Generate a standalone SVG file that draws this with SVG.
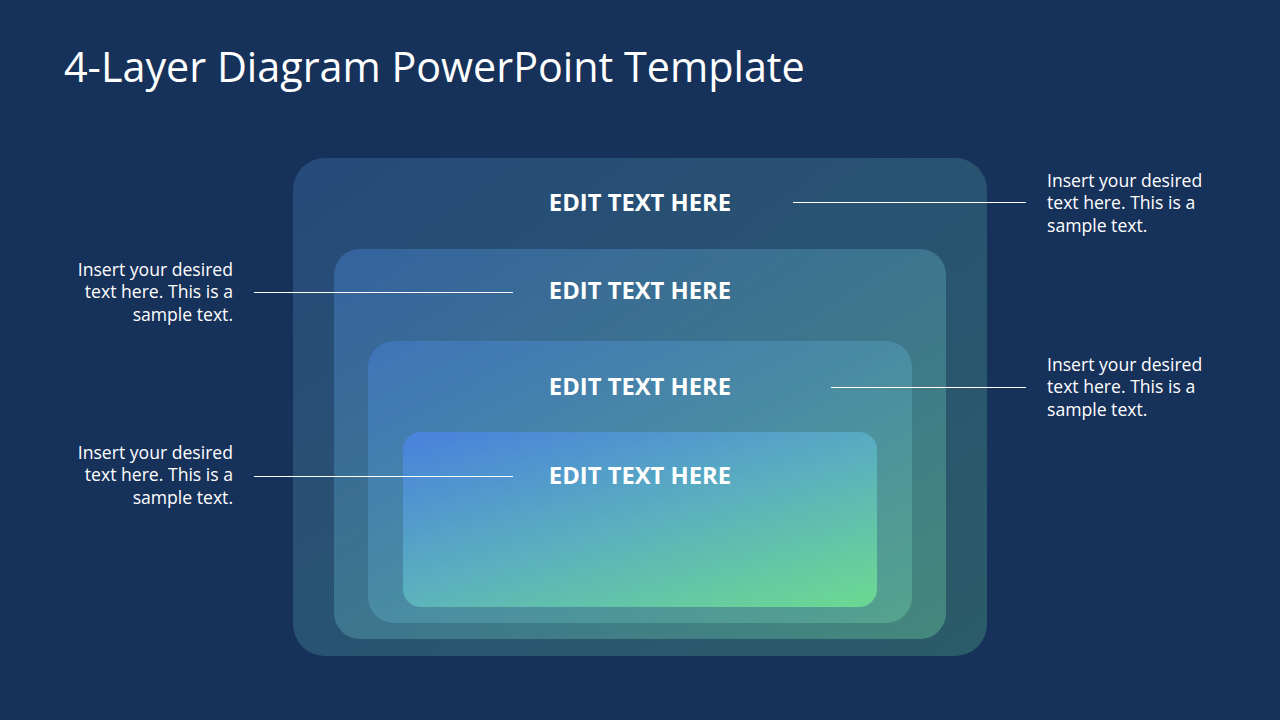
<svg xmlns="http://www.w3.org/2000/svg" width="1280" height="720" viewBox="0 0 1280 720">
<defs>
<linearGradient id="g1" x1="0" y1="0" x2="1" y2="1"><stop offset="0" stop-color="#264a7a"/><stop offset="1" stop-color="#2b5c68"/></linearGradient>
<linearGradient id="g2" x1="0" y1="0" x2="1" y2="1"><stop offset="0" stop-color="#35639e"/><stop offset="1" stop-color="#45887c"/></linearGradient>
<linearGradient id="g3" x1="0" y1="0" x2="1" y2="1"><stop offset="0" stop-color="#3f74b8"/><stop offset="1" stop-color="#55a38d"/></linearGradient>
<linearGradient id="g4" x1="0.1" y1="0" x2="0.9" y2="1"><stop offset="0" stop-color="#4a84da"/><stop offset="0.5" stop-color="#5aafbf"/><stop offset="1" stop-color="#6bd694"/></linearGradient>
<style>
.lbl{font-family:"Open Sans","Noto Sans",sans-serif;font-weight:700;font-size:23.8px;fill:#ffffff;text-anchor:middle}
.desc{font-family:"Open Sans","Noto Sans",sans-serif;font-size:17.6px;fill:#ffffff}
.l{text-anchor:end}
.conn line{stroke:#ffffff;stroke-width:1.2}
</style>
</defs>
<rect width="1280" height="720" fill="#17325a"/>
<text x="64" y="82" font-family="'Open Sans','Noto Sans',sans-serif" font-size="41.3" fill="#ffffff">4-Layer Diagram PowerPoint Template</text>
<g id="layer1"><rect x="293" y="158" width="694" height="498" rx="32" fill="url(#g1)"/><text class="lbl" x="640" y="211">EDIT TEXT HERE</text></g>
<g id="layer2"><rect x="334" y="249" width="612" height="390" rx="26" fill="url(#g2)"/><text class="lbl" x="640" y="299">EDIT TEXT HERE</text></g>
<g id="layer3"><rect x="368" y="341" width="544" height="282" rx="26" fill="url(#g3)"/><text class="lbl" x="640" y="395">EDIT TEXT HERE</text></g>
<g id="layer4"><rect x="403" y="432" width="474" height="175" rx="18" fill="url(#g4)"/><text class="lbl" x="640" y="484">EDIT TEXT HERE</text></g>
<g class="conn">
<line x1="793" y1="202.5" x2="1026" y2="202.5"/>
<line x1="254" y1="292.5" x2="513" y2="292.5"/>
<line x1="831" y1="387.5" x2="1026" y2="387.5"/>
<line x1="254" y1="476.5" x2="513" y2="476.5"/>
</g>
<g id="desc1"><text class="desc" x="1047" y="187">Insert your desired</text><text class="desc" x="1047" y="209">text here. This is a</text><text class="desc" x="1047" y="232">sample text.</text></g>
<g id="desc2"><text class="desc l" x="233" y="276">Insert your desired</text><text class="desc l" x="233" y="298">text here. This is a</text><text class="desc l" x="233" y="321">sample text.</text></g>
<g id="desc3"><text class="desc" x="1047" y="371">Insert your desired</text><text class="desc" x="1047" y="393">text here. This is a</text><text class="desc" x="1047" y="416">sample text.</text></g>
<g id="desc4"><text class="desc l" x="233" y="459">Insert your desired</text><text class="desc l" x="233" y="481">text here. This is a</text><text class="desc l" x="233" y="504">sample text.</text></g>
</svg>
